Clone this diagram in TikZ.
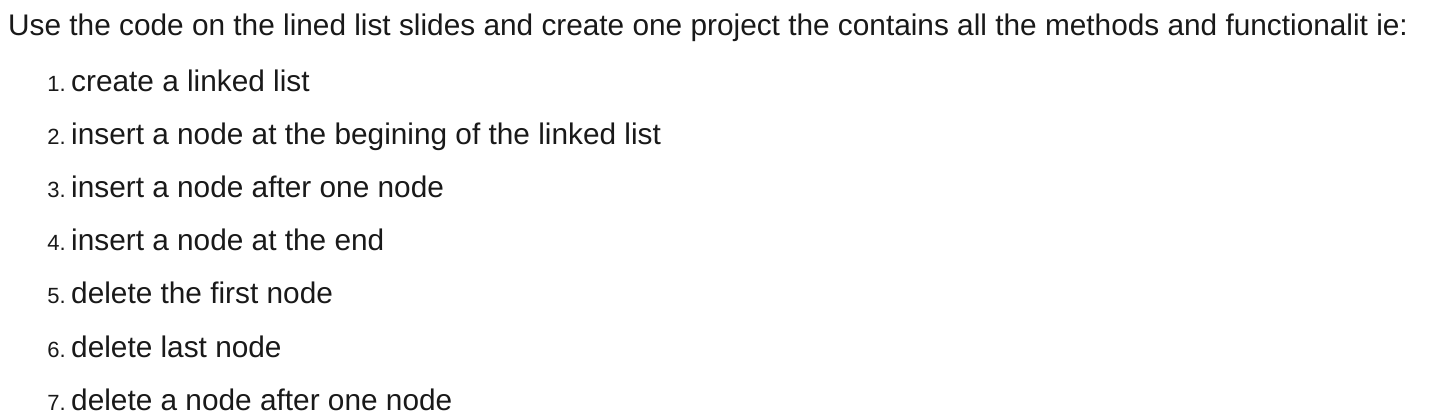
\documentclass[tikz,border=0pt]{standalone}
\usepackage{fontspec}
\setmainfont{Liberation Sans}
\begin{document}
\begin{tikzpicture}[x=1pt,y=-1pt,
  txt/.style={anchor=base west,inner sep=0pt,font=\fontsize{29.8}{34}\selectfont,text=black!90},
  num/.style={anchor=base east,inner sep=0pt,font=\fontsize{22}{26}\selectfont,text=black!90}]
\useasboundingbox (0,0) rectangle (1434,420);
\node[txt] (t) at (8,36) {Use the code on the lined list slides and create one project the contains all the methods and functionalit ie:};
\foreach \i/\s [count=\k] in {1/create a linked list,2/insert a node at the begining of the linked list,3/insert a node after one node,4/insert a node at the end,5/delete the first node,6/delete last node,7/delete a node after one node}{
  \node[num] (n\k) at (66,{91+53.2*(\k-1)}) {\i.};
  \node[txt] (i\k) at (71,{91+53.2*(\k-1)}) {\s};
}
\end{tikzpicture}
\end{document}
